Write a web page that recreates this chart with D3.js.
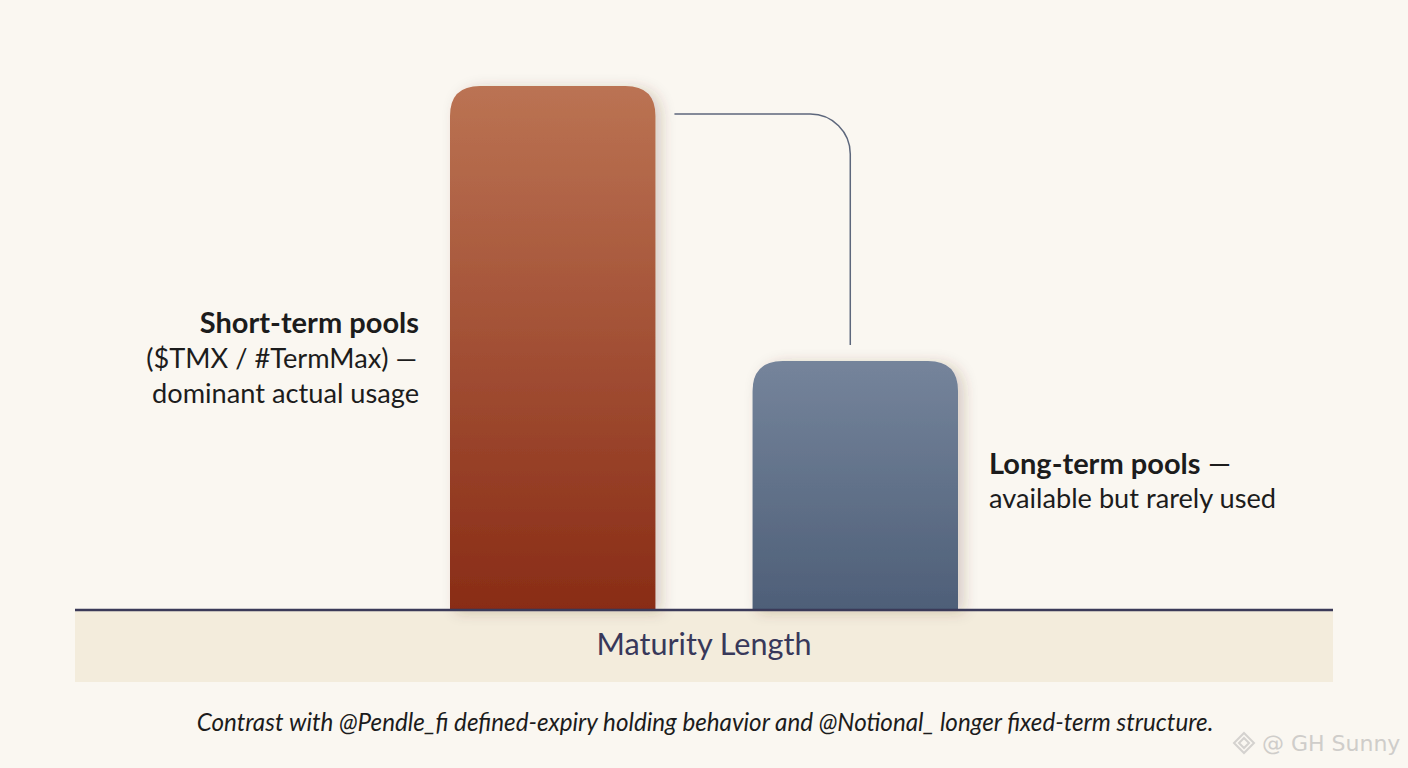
<!DOCTYPE html>
<html><head><meta charset="utf-8">
<script src="https://cdn.jsdelivr.net/npm/d3@7"></script>
<style>
html,body{margin:0;padding:0;background:#faf7f1;}
svg{display:block;}
</style></head>
<body>
<svg id="chart" width="1408" height="768"></svg>
<script>
const categories = ["Short-term pools", "Long-term pools"];
const usage = [100, 47.5];
const axisTitle = "Maturity Length";
const footnote = "Contrast with @Pendle_fi defined-expiry holding behavior and @Notional_ longer fixed-term structure.";
const watermark = "@ GH Sunny";

const W = 1408, H = 768;
const svg = d3.select("#chart");
const font = "Lato, 'Open Sans', sans-serif";

svg.append("rect").attr("width", W).attr("height", H).attr("fill", "#faf7f1");

const defs = svg.append("defs");
const g1 = defs.append("linearGradient").attr("id","gRed").attr("x1",0).attr("y1",0).attr("x2",0).attr("y2",1);
g1.append("stop").attr("offset","0%").attr("stop-color","#bb7353");
g1.append("stop").attr("offset","100%").attr("stop-color","#892c16");
const g2 = defs.append("linearGradient").attr("id","gBlue").attr("x1",0).attr("y1",0).attr("x2",0).attr("y2",1);
g2.append("stop").attr("offset","0%").attr("stop-color","#75849b");
g2.append("stop").attr("offset","100%").attr("stop-color","#4e5f78");
const f = defs.append("filter").attr("id","shadow").attr("x","-20%").attr("y","-10%").attr("width","150%").attr("height","130%");
f.append("feDropShadow").attr("dx",6).attr("dy",2).attr("stdDeviation",7).attr("flood-color","#5a3a2a").attr("flood-opacity",0.22);

const baseY = 610, topY = 86;
const x = d3.scaleBand().domain(categories).range([450, 958]).paddingInner(0.321).paddingOuter(0);
const y = d3.scaleLinear().domain([0, 100]).range([baseY, topY]);

// axis band
svg.append("rect").attr("x", 75).attr("y", baseY).attr("width", 1258).attr("height", 72).attr("fill", "#f3ecdc");

function barPath(x0, y0, w, h, r) {
  return `M${x0},${y0+h} L${x0},${y0+r} Q${x0},${y0} ${x0+r},${y0} L${x0+w-r},${y0} Q${x0+w},${y0} ${x0+w},${y0+r} L${x0+w},${y0+h} Z`;
}
const fills = ["url(#gRed)", "url(#gBlue)"];
svg.selectAll("path.bar").data(categories).enter().append("path")
  .attr("class","bar")
  .attr("d", (d,i) => barPath(x(d), y(usage[i]), x.bandwidth(), baseY - y(usage[i]), 30))
  .attr("fill", (d,i) => fills[i])
  .attr("filter","url(#shadow)");

// baseline
svg.append("line").attr("x1",75).attr("x2",1333).attr("y1",baseY).attr("y2",baseY)
  .attr("stroke","#3b3a58").attr("stroke-width",2.5);

// connector
const rx = x(categories[0]) + x.bandwidth() + 19;
const ry = y(usage[0]) + 28;
const bx = x(categories[1]) + x.bandwidth()/2 - 5;
const by = y(usage[1]) - 16;
const rr = 40;
svg.append("path")
  .attr("d", `M${rx},${ry} L${bx-rr},${ry} A${rr},${rr} 0 0 1 ${bx},${ry+rr} L${bx},${by}`)
  .attr("fill","none").attr("stroke","#5d677c").attr("stroke-width",1.5);

// left label
const lt = svg.append("text").attr("text-anchor","end").attr("font-family",font).attr("fill","#1c1c1c").attr("font-size",27);
lt.append("tspan").attr("x",419).attr("y",333).attr("font-size",29).attr("font-weight",700).text(categories[0]);
lt.append("tspan").attr("x",417).attr("y",368).attr("font-size",27.2).text("($TMX / #TermMax) —");
lt.append("tspan").attr("x",419).attr("y",403).attr("font-size",27.2).text("dominant actual usage");

// right label
const rt = svg.append("text").attr("font-family",font).attr("fill","#1c1c1c").attr("font-size",27.2);
rt.append("tspan").attr("x",989).attr("y",474).attr("font-size",29).attr("font-weight",700).text(categories[1]);
rt.append("tspan").attr("font-size",29).attr("font-weight",400).text(" —");
rt.append("tspan").attr("x",989).attr("y",508).text("available but rarely used");

// axis title
svg.append("text").attr("x",704).attr("y",655).attr("text-anchor","middle")
  .attr("font-family",font).attr("font-size",30.6).attr("fill","#38385a").text(axisTitle);

// footnote
svg.append("text").attr("x",705).attr("y",731).attr("text-anchor","middle")
  .attr("font-family",font).attr("font-style","italic").attr("font-size",24.2).attr("fill","#1c1c1c").text(footnote);

// watermark
const wm = svg.append("g").attr("transform","translate(1244,743)");
wm.append("path").attr("d","M0,-10 L10,0 L0,10 L-10,0 Z M0,-5 L5,0 L0,5 L-5,0 Z").attr("fill","none").attr("stroke","#d4d2cf").attr("stroke-width",2);
svg.append("text").attr("x",1262).attr("y",751).attr("font-family","'DejaVu Sans', sans-serif").attr("font-size",22)
  .attr("fill","#cfcdca").text(watermark);
</script>
</body></html>
